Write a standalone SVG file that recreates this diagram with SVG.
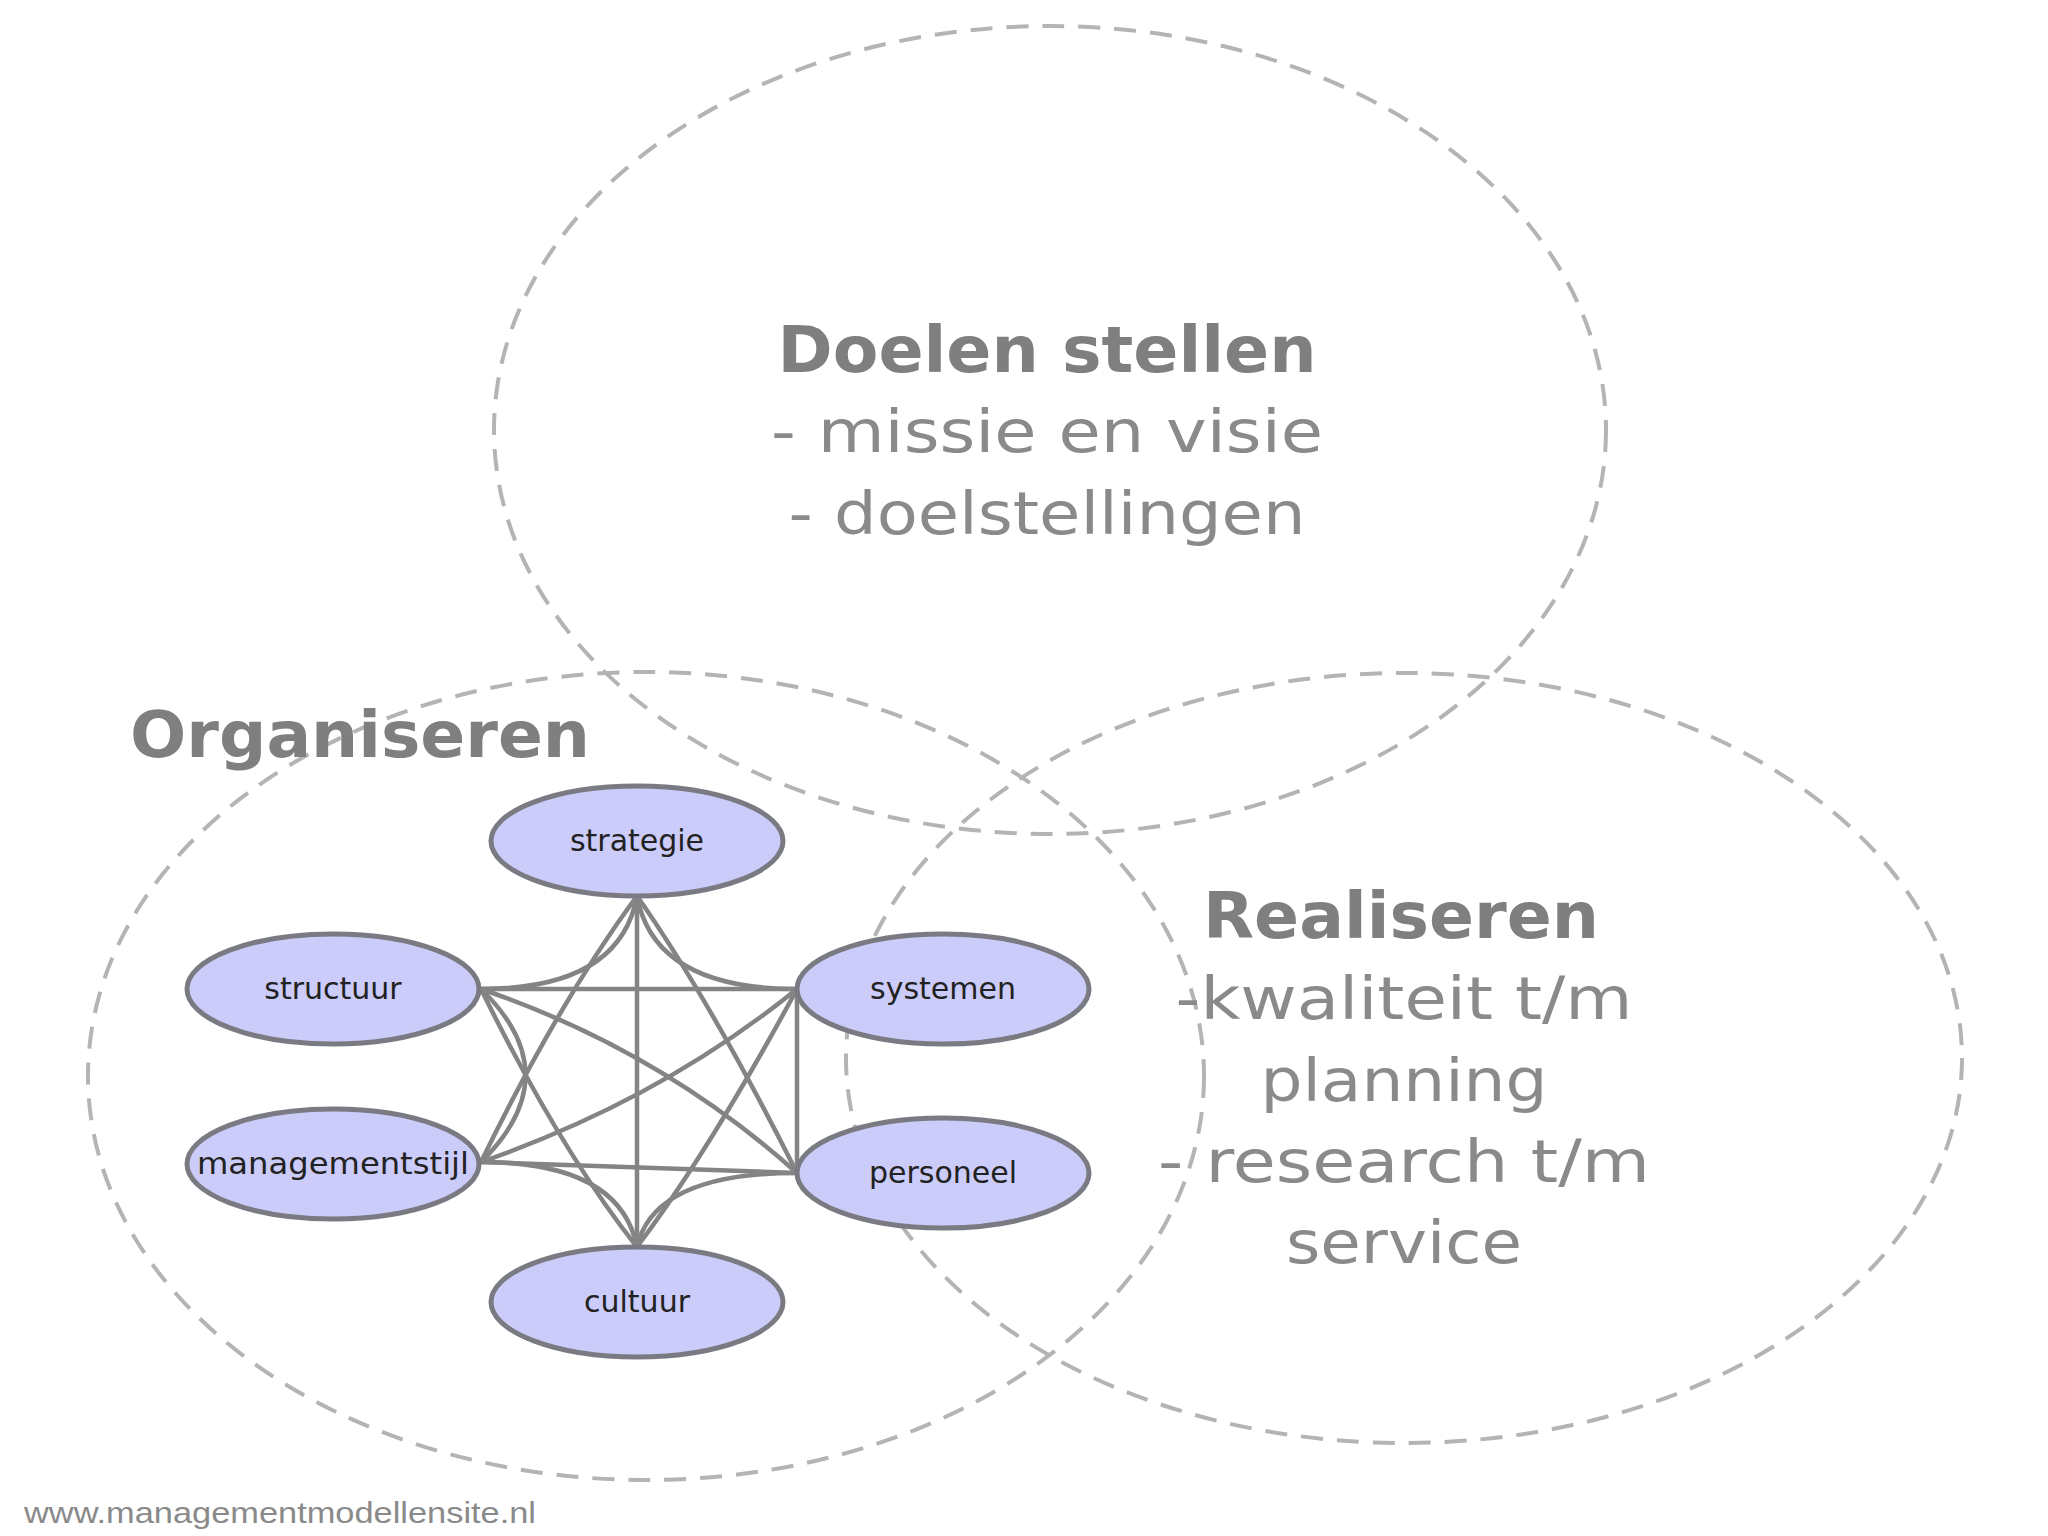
<svg xmlns="http://www.w3.org/2000/svg" width="2048" height="1536" viewBox="0 0 2048 1536">
<style>
.big{fill:none;stroke:#b4b4b4;stroke-width:4;stroke-dasharray:22 14}
.node ellipse{fill:#ccccfa;stroke:#7a7a82;stroke-width:5}
.node text{font-family:"DejaVu Sans",sans-serif;font-size:30px;fill:#222;text-anchor:middle}
.h{font-family:"DejaVu Sans",sans-serif;font-weight:bold;font-size:64px;fill:#7f7f7f}
.t{font-family:"DejaVu Sans",sans-serif;font-size:58px;fill:#8a8a8a;text-anchor:middle}
#edges path{fill:none;stroke:#848484;stroke-width:4.5}
</style>
<rect width="2048" height="1536" fill="#fff"/>
<ellipse class="big" cx="1050" cy="430" rx="556" ry="404"/>
<ellipse class="big" cx="646" cy="1076" rx="558" ry="404"/>
<ellipse class="big" cx="1404" cy="1058" rx="558" ry="385"/>
<text class="h" x="1047" y="372" text-anchor="middle" textLength="539" lengthAdjust="spacingAndGlyphs">Doelen stellen</text>
<text class="t" x="1047" y="452" textLength="552" lengthAdjust="spacingAndGlyphs">- missie en visie</text>
<text class="t" x="1047" y="534" textLength="517" lengthAdjust="spacingAndGlyphs">- doelstellingen</text>
<text class="h" x="130" y="757" textLength="460" lengthAdjust="spacingAndGlyphs">Organiseren</text>
<text class="h" x="1401" y="938" text-anchor="middle" textLength="396" lengthAdjust="spacingAndGlyphs">Realiseren</text>
<text class="t" x="1404" y="1019" textLength="457" lengthAdjust="spacingAndGlyphs">-kwaliteit t/m</text>
<text class="t" x="1404" y="1101" textLength="287" lengthAdjust="spacingAndGlyphs">planning</text>
<text class="t" x="1404" y="1182" textLength="492" lengthAdjust="spacingAndGlyphs">- research t/m</text>
<text class="t" x="1404" y="1263" textLength="236" lengthAdjust="spacingAndGlyphs">service</text>
<g id="edges">
<path d="M481 989 Q620 989 637 896"/>
<path d="M797 989 Q654 989 637 896"/>
<path d="M481 1162 Q560 1000 637 896"/>
<path d="M797 1173 Q710 1000 637 896"/>
<path d="M481 1162 Q620 1162 637 1247"/>
<path d="M797 1173 Q654 1173 637 1247"/>
<path d="M481 989 Q560 1150 637 1247"/>
<path d="M797 989 Q710 1150 637 1247"/>
<path d="M481 989 Q570 1075 481 1162"/>
<path d="M481 989 L797 989"/>
<path d="M481 1162 L797 1173"/>
<path d="M637 896 L637 1247"/>
<path d="M797 989 L797 1173"/>
<path d="M481 989 Q660 1050 797 1173"/>
<path d="M481 1162 Q660 1100 797 989"/>
</g>
<g id="strategie" class="node"><ellipse cx="637" cy="841" rx="146" ry="55"/><text x="637" y="851">strategie</text></g>
<g id="structuur" class="node"><ellipse cx="333" cy="989" rx="146" ry="55"/><text x="333" y="999">structuur</text></g>
<g id="systemen" class="node"><ellipse cx="943" cy="989" rx="146" ry="55"/><text x="943" y="999">systemen</text></g>
<g id="managementstijl" class="node"><ellipse cx="333" cy="1164" rx="146" ry="55"/><text x="333" y="1174" textLength="272" lengthAdjust="spacingAndGlyphs">managementstijl</text></g>
<g id="personeel" class="node"><ellipse cx="943" cy="1173" rx="146" ry="55"/><text x="943" y="1183">personeel</text></g>
<g id="cultuur" class="node"><ellipse cx="637" cy="1302" rx="146" ry="55"/><text x="637" y="1312">cultuur</text></g>
<text x="24" y="1523" font-family="Liberation Sans, sans-serif" font-size="30" fill="#8a8a8a" textLength="512" lengthAdjust="spacingAndGlyphs">www.managementmodellensite.nl</text>
</svg>
